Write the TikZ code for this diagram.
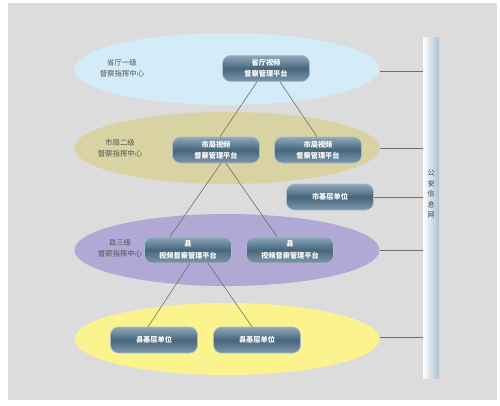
\documentclass[tikz,border=0pt]{standalone}
\usepackage{fontspec}
\newfontfamily\cjk{Noto Sans CJK SC}
\usetikzlibrary{shapes.geometric,calc}
\definecolor{bg}{HTML}{DCDCDC}
\definecolor{eblue}{HTML}{D4ECF8}
\definecolor{etan}{HTML}{D9D2A2}
\definecolor{epurple}{HTML}{B2A8D6}
\definecolor{eyellow}{HTML}{FBF48E}
\definecolor{ntop}{HTML}{8FA8BA}
\definecolor{nmid}{HTML}{46667D}
\definecolor{nbot}{HTML}{7E98AB}
\definecolor{nborder}{HTML}{A7BDCB}
\definecolor{lbl}{HTML}{4F5459}
\definecolor{conn}{HTML}{6E6E6E}
\definecolor{barR}{HTML}{A9BFCD}
\tikzset{
  level/.style={ellipse, draw=none, minimum width=305pt, minimum height=72pt, inner sep=0pt},
  platform/.style={rounded corners=8pt, draw=nborder, line width=0.6pt,
    top color=ntop, bottom color=nbot, middle color=nmid,
    minimum width=87pt, minimum height=26pt, inner sep=1pt,
    text=white, align=center, font=\cjk\fontsize{7.2}{11.5}\selectfont\bfseries},
  lvltext/.style={text=lbl, align=center, font=\cjk\fontsize{7.4}{10.5}\selectfont},
  conline/.style={draw=conn, line width=0.6pt},
}
\begin{document}
\begin{tikzpicture}[x=1pt,y=-1pt]
\useasboundingbox (0,0) rectangle (500,405);
\fill[white] (0,0) rectangle (500,405);
\fill[bg] (8,3) rectangle (497,400);

% level ellipses
\node[level, fill=eblue]   (e1) at (227,69) {};
\node[level, fill=etan]    (e2) at (227,148) {};
\node[level, fill=epurple] (e3) at (227,250) {};
\node[level, fill=eyellow] (e4) at (227,339) {};

% bus bar
\node[draw=none, left color=white, right color=barR, minimum width=16pt, minimum height=341pt, inner sep=0pt] (bar) at (431,207.5) {};
\node[text=lbl!80!black, align=center, font=\cjk\fontsize{7}{10.5}\selectfont] (bartxt) at (431,194) {公\\安\\信\\息\\网};

% level labels
\node[lvltext] (t1) at (122,68) {省厅一级\\督察指挥中心};
\node[lvltext] (t2) at (120,148) {市局二级\\督察指挥中心};
\node[lvltext] (t3) at (120,248) {县三级\\督察指挥中心};

% platform nodes
\node[platform] (sheng) at (266,68.5) {省厅视频\\督察管理平台};
\node[platform] (sjl) at (216,150) {市局视频\\督察管理平台};
\node[platform] (sjr) at (318,150) {市局视频\\督察管理平台};
\node[platform] (sjd) at (330,197) {市基层单位};
\node[platform] (xl) at (188,250) {县\\视频督察管理平台};
\node[platform] (xr) at (290,250) {县\\视频督察管理平台};
\node[platform] (jl) at (154,340) {县基层单位};
\node[platform] (jr) at (257,340) {县基层单位};

% connectors
\draw[conline] ([xshift=-9pt]sheng.south) -- ([xshift=4pt]sjl.north);
\draw[conline] ([xshift=14pt]sheng.south) -- ([xshift=-1pt]sjr.north);
\draw[conline] ([xshift=5pt]sjl.south) -- ([xshift=-18pt]xl.north);
\draw[conline] ([xshift=10pt]sjl.south) -- ([xshift=-13pt]xr.north);
\draw[conline] ([xshift=2pt]xl.south) -- ([xshift=-6pt]jl.north);
\draw[conline] ([xshift=20pt]xl.south) -- ([xshift=-5pt]jr.north);

\draw[conline] ([yshift=-2pt]e1.east) -- ([yshift=-2pt]e1.east -| bar.west);
\draw[conline] (e2.east) -- (e2.east -| bar.west);
\draw[conline] (sjd.east) -- (sjd.east -| bar.west);
\draw[conline] (e3.east) -- (e3.east -| bar.west);
\draw[conline] ([yshift=2pt]e4.east) -- ([yshift=2pt]e4.east -| bar.west);
\end{tikzpicture}
\end{document}
